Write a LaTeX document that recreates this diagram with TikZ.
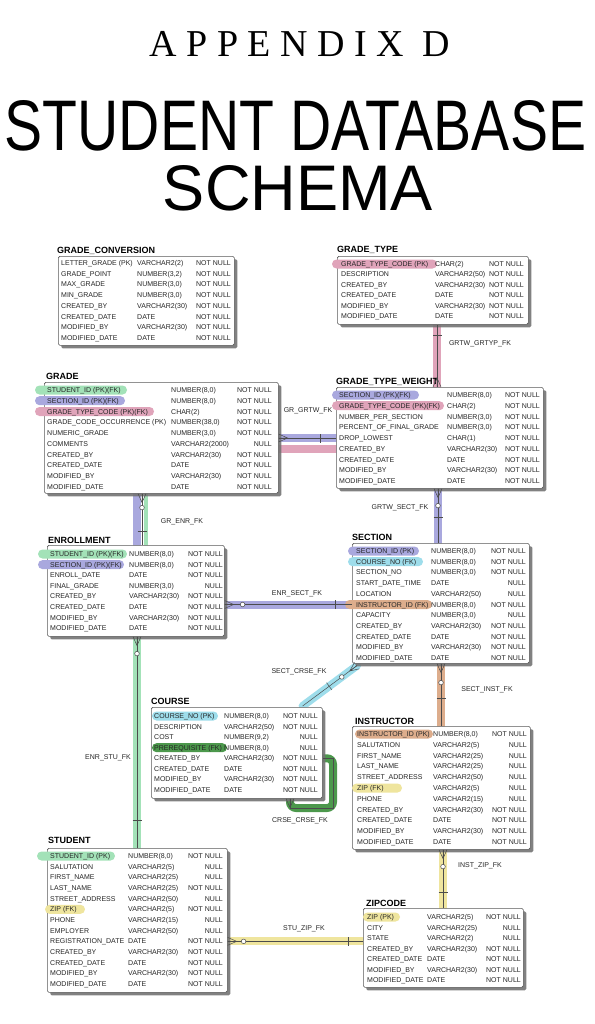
\documentclass[tikz,border=0pt]{standalone}
\usepackage{fontspec}
\setmainfont{Liberation Sans}
\setsansfont{Liberation Sans}
\newfontfamily\appxfont[LetterSpace=25]{Liberation Serif}
\usepackage{graphicx}
\usetikzlibrary{calc,shadows,backgrounds,decorations.markings}
\definecolor{hlgreen}{HTML}{A3E2B8}
\definecolor{hlblue}{HTML}{A9A8DE}
\definecolor{hlpink}{HTML}{E0A4BA}
\definecolor{hlcyan}{HTML}{9EDDEB}
\definecolor{hlorange}{HTML}{DDAD8C}
\definecolor{hlyellow}{HTML}{EFE59E}
\definecolor{hldkgreen}{HTML}{4C984C}
\tikzset{
  tbl/.style={draw=black!65,line width=0.6pt,fill=white,rounded corners=1.5pt,
    anchor=north west,inner sep=0pt,
    drop shadow={shadow xshift=3pt,shadow yshift=-3pt,fill=black!55,opacity=0.9}},
  tbltitle/.style={anchor=west,inner sep=0pt,text height=6.5pt,text depth=0pt,
    font=\sffamily\fontsize{9}{10}\selectfont\bfseries},
  cell/.style={anchor=west,inner sep=0pt,text height=5pt,text depth=0pt,
    text=black!85,font=\sffamily\fontsize{7}{8}\selectfont},
  nul/.style={cell,anchor=east},
  pill/.style={fill=#1,rounded corners=4.5pt},
  band/.style={draw=#1,line width=8pt,line cap=round},
  fk/.style={draw=black!70,line width=0.5pt},
  crow/.style={postaction={decorate,decoration={markings,
    mark=at position 0pt with {\draw[fk] (0pt,4pt) -- (9pt,0pt) -- (0pt,-4pt) (0pt,0pt) -- (9pt,0pt);}}}},
  ring/.style={postaction={decorate,decoration={markings,
    mark=at position #1 with {\draw[fk,fill=white] (0pt,0pt) circle (2.3pt);}}}},
  onebar/.style={postaction={decorate,decoration={markings,
    mark=at position #1 with {\draw[fk] (0pt,-4.5pt) -- (0pt,4.5pt);}}}},
  fklabel/.style={inner sep=0pt,text=black!85,font=\sffamily\fontsize{7}{8}\selectfont}
}

\begin{document}
\begin{tikzpicture}[x=1pt,y=-1pt,font=\sffamily]
\useasboundingbox (0,0) rectangle (594,1024);
%% heading
\node[font=\appxfont\fontsize{38}{40}\selectfont] (appx) at (300,44) {APPENDIX D};
\node[inner sep=0pt] (head1) at (295.5,125.5) {\resizebox{581pt}{50pt}{STUDENT DATABASE}};
\node[inner sep=0pt] (head2) at (298,188) {\resizebox{270pt}{45pt}{SCHEMA}};

%% GRADE_CONVERSION
\node[tbltitle] (gc-title) at (57,250) {GRADE\_CONVERSION};
\node[tbl,minimum width=176pt,minimum height=89pt] (gc) at (58,256) {};
\foreach \cname/\ctype/\cnull [count=\i from 0] in {LETTER\_GRADE (PK)/VARCHAR2(2)/NOT NULL,
  GRADE\_POINT/{NUMBER(3,2)}/NOT NULL, MAX\_GRADE/{NUMBER(3,0)}/NOT NULL,
  MIN\_GRADE/{NUMBER(3,0)}/NOT NULL, CREATED\_BY/VARCHAR2(30)/NOT NULL,
  CREATED\_DATE/DATE/NOT NULL, MODIFIED\_BY/VARCHAR2(30)/NOT NULL,
  MODIFIED\_DATE/DATE/NOT NULL}{
  \node[cell] (gc-n\i) at (61,{263+10.7*\i}) {\cname};
  \node[cell] (gc-t\i) at (137,{263+10.7*\i}) {\ctype};
  \node[nul] (gc-u\i) at (231,{263+10.7*\i}) {\cnull};
}

%% GRADE_TYPE
\node[tbltitle] (gt-title) at (337,249) {GRADE\_TYPE};
\node[tbl,minimum width=191pt,minimum height=68pt] (gt) at (337,256) {};
\fill[pill=hlpink] (332,259.5) rectangle (437,268.5);
\foreach \cname/\ctype/\cnull [count=\i from 0] in {GRADE\_TYPE\_CODE (PK)/CHAR(2)/NOT NULL,
  DESCRIPTION/VARCHAR2(50)/NOT NULL, CREATED\_BY/VARCHAR2(30)/NOT NULL,
  CREATED\_DATE/DATE/NOT NULL, MODIFIED\_BY/VARCHAR2(30)/NOT NULL,
  MODIFIED\_DATE/DATE/NOT NULL}{
  \node[cell] (gt-n\i) at (341,{264+10.45*\i}) {\cname};
  \node[cell] (gt-t\i) at (435,{264+10.45*\i}) {\ctype};
  \node[nul] (gt-u\i) at (524,{264+10.45*\i}) {\cnull};
}

%% GRADE
\node[tbltitle] (gr-title) at (46,376) {GRADE};
\node[tbl,minimum width=234pt,minimum height=111pt] (gr) at (44,382) {};
\fill[pill=hlgreen] (35,385.5) rectangle (127,394.5);
\fill[pill=hlblue] (35,396.2) rectangle (125,405.2);
\fill[pill=hlpink] (35,407) rectangle (154,416);
\foreach \cname/\ctype/\cnull [count=\i from 0] in {STUDENT\_ID (PK)(FK)/{NUMBER(8,0)}/NOT NULL,
  SECTION\_ID (PK)(FK)/{NUMBER(8,0)}/NOT NULL, GRADE\_TYPE\_CODE (PK)(FK)/CHAR(2)/NOT NULL,
  GRADE\_CODE\_OCCURRENCE (PK)/{NUMBER(38,0)}/NOT NULL, NUMERIC\_GRADE/{NUMBER(3,0)}/NOT NULL,
  COMMENTS/VARCHAR2(2000)/NULL, CREATED\_BY/VARCHAR2(30)/NOT NULL,
  CREATED\_DATE/DATE/NOT NULL, MODIFIED\_BY/VARCHAR2(30)/NOT NULL,
  MODIFIED\_DATE/DATE/NOT NULL}{
  \node[cell] (gr-n\i) at (47,{390+10.75*\i}) {\cname};
  \node[cell] (gr-t\i) at (171,{390+10.75*\i}) {\ctype};
  \node[nul] (gr-u\i) at (272,{390+10.75*\i}) {\cnull};
}

%% GRADE_TYPE_WEIGHT
\node[tbltitle] (gtw-title) at (336,381) {GRADE\_TYPE\_WEIGHT};
\node[tbl,minimum width=207pt,minimum height=101pt] (gtw) at (336,387) {};
\fill[pill=hlblue] (332,390.5) rectangle (419,399.5);
\fill[pill=hlpink] (332,401.2) rectangle (444,410.2);
\foreach \cname/\ctype/\cnull [count=\i from 0] in {SECTION\_ID (PK)(FK)/{NUMBER(8,0)}/NOT NULL,
  GRADE\_TYPE\_CODE (PK)(FK)/CHAR(2)/NOT NULL, NUMBER\_PER\_SECTION/{NUMBER(3,0)}/NOT NULL,
  PERCENT\_OF\_FINAL\_GRADE/{NUMBER(3,0)}/NOT NULL, DROP\_LOWEST/CHAR(1)/NOT NULL,
  CREATED\_BY/VARCHAR2(30)/NOT NULL, CREATED\_DATE/DATE/NOT NULL,
  MODIFIED\_BY/VARCHAR2(30)/NOT NULL, MODIFIED\_DATE/DATE/NOT NULL}{
  \node[cell] (gtw-n\i) at (339,{395+10.75*\i}) {\cname};
  \node[cell] (gtw-t\i) at (447,{395+10.75*\i}) {\ctype};
  \node[nul] (gtw-u\i) at (540,{395+10.75*\i}) {\cnull};
}

%% ENROLLMENT
\node[tbltitle] (enr-title) at (48,540) {ENROLLMENT};
\node[tbl,minimum width=177pt,minimum height=91pt] (enr) at (47,545) {};
\fill[pill=hlgreen] (38,549.5) rectangle (127,558.5);
\fill[pill=hlblue] (38,560.1) rectangle (124,569.1);
\foreach \cname/\ctype/\cnull [count=\i from 0] in {STUDENT\_ID (PK)(FK)/{NUMBER(8,0)}/NOT NULL,
  SECTION\_ID (PK)(FK)/{NUMBER(8,0)}/NOT NULL, ENROLL\_DATE/DATE/NOT NULL,
  FINAL\_GRADE/{NUMBER(3,0)}/NULL, CREATED\_BY/VARCHAR2(30)/NOT NULL,
  CREATED\_DATE/DATE/NOT NULL, MODIFIED\_BY/VARCHAR2(30)/NOT NULL,
  MODIFIED\_DATE/DATE/NOT NULL}{
  \node[cell] (enr-n\i) at (50,{554+10.6*\i}) {\cname};
  \node[cell] (enr-t\i) at (129,{554+10.6*\i}) {\ctype};
  \node[nul] (enr-u\i) at (223,{554+10.6*\i}) {\cnull};
}

%% SECTION
\node[tbltitle] (sec-title) at (352,537) {SECTION};
\node[tbl,minimum width=177pt,minimum height=120pt] (sec) at (352,543) {};
\fill[pill=hlblue] (348,546.5) rectangle (419,555.5);
\fill[pill=hlcyan] (348,557.2) rectangle (423,566.2);
\fill[pill=hlorange] (345,600) rectangle (432,609);
\foreach \cname/\ctype/\cnull [count=\i from 0] in {SECTION\_ID (PK)/{NUMBER(8,0)}/NOT NULL,
  COURSE\_NO (FK)/{NUMBER(8,0)}/NOT NULL, SECTION\_NO/{NUMBER(3,0)}/NOT NULL,
  START\_DATE\_TIME/DATE/NULL, LOCATION/VARCHAR2(50)/NULL,
  INSTRUCTOR\_ID (FK)/{NUMBER(8,0)}/NOT NULL, CAPACITY/{NUMBER(3,0)}/NULL,
  CREATED\_BY/VARCHAR2(30)/NOT NULL, CREATED\_DATE/DATE/NOT NULL,
  MODIFIED\_BY/VARCHAR2(30)/NOT NULL, MODIFIED\_DATE/DATE/NOT NULL}{
  \node[cell] (sec-n\i) at (356,{551+10.7*\i}) {\cname};
  \node[cell] (sec-t\i) at (431,{551+10.7*\i}) {\ctype};
  \node[nul] (sec-u\i) at (526,{551+10.7*\i}) {\cnull};
}

%% COURSE
\node[tbltitle] (crs-title) at (151,701) {COURSE};
\node[tbl,minimum width=171pt,minimum height=91pt] (crs) at (151,707) {};
\fill[pill=hlcyan] (152,711.5) rectangle (218,720.5);
\fill[pill=hldkgreen] (152,743.2) rectangle (227,752.2);
\foreach \cname/\ctype/\cnull [count=\i from 0] in {COURSE\_NO (PK)/{NUMBER(8,0)}/NOT NULL,
  DESCRIPTION/VARCHAR2(50)/NOT NULL, COST/{NUMBER(9,2)}/NULL,
  PREREQUISITE (FK)/{NUMBER(8,0)}/NULL, CREATED\_BY/VARCHAR2(30)/NOT NULL,
  CREATED\_DATE/DATE/NOT NULL, MODIFIED\_BY/VARCHAR2(30)/NOT NULL,
  MODIFIED\_DATE/DATE/NOT NULL}{
  \node[cell] (crs-n\i) at (154,{716+10.57*\i}) {\cname};
  \node[cell] (crs-t\i) at (224,{716+10.57*\i}) {\ctype};
  \node[nul] (crs-u\i) at (318,{716+10.57*\i}) {\cnull};
}

%% INSTRUCTOR
\node[tbltitle] (ins-title) at (355,721) {INSTRUCTOR};
\node[tbl,minimum width=178pt,minimum height=123pt] (ins) at (352,726) {};
\fill[pill=hlorange] (355,729.5) rectangle (433,738.5);
\fill[pill=hlyellow] (352,783.5) rectangle (402,792.5);
\foreach \cname/\ctype/\cnull [count=\i from 0] in {INSTRUCTOR\_ID (PK)/{NUMBER(8,0)}/NOT NULL,
  SALUTATION/VARCHAR2(5)/NULL, FIRST\_NAME/VARCHAR2(25)/NULL,
  LAST\_NAME/VARCHAR2(25)/NULL, STREET\_ADDRESS/VARCHAR2(50)/NULL,
  ZIP (FK)/VARCHAR2(5)/NULL, PHONE/VARCHAR2(15)/NULL,
  CREATED\_BY/VARCHAR2(30)/NOT NULL, CREATED\_DATE/DATE/NOT NULL,
  MODIFIED\_BY/VARCHAR2(30)/NOT NULL, MODIFIED\_DATE/DATE/NOT NULL}{
  \node[cell] (ins-n\i) at (357,{734+10.8*\i}) {\cname};
  \node[cell] (ins-t\i) at (433,{734+10.8*\i}) {\ctype};
  \node[nul] (ins-u\i) at (527,{734+10.8*\i}) {\cnull};
}

%% STUDENT
\node[tbltitle] (stu-title) at (48,840) {STUDENT};
\node[tbl,minimum width=180pt,minimum height=144pt] (stu) at (47,848) {};
\fill[pill=hlgreen] (37,851.5) rectangle (115,860.5);
\fill[pill=hlyellow] (45,904.8) rectangle (85,913.8);
\foreach \cname/\ctype/\cnull [count=\i from 0] in {STUDENT\_ID (PK)/{NUMBER(8,0)}/NOT NULL,
  SALUTATION/VARCHAR2(5)/NULL, FIRST\_NAME/VARCHAR2(25)/NULL,
  LAST\_NAME/VARCHAR2(25)/NOT NULL, STREET\_ADDRESS/VARCHAR2(50)/NULL,
  ZIP (FK)/VARCHAR2(5)/NOT NULL, PHONE/VARCHAR2(15)/NULL,
  EMPLOYER/VARCHAR2(50)/NULL, REGISTRATION\_DATE/DATE/NOT NULL,
  CREATED\_BY/VARCHAR2(30)/NOT NULL, CREATED\_DATE/DATE/NOT NULL,
  MODIFIED\_BY/VARCHAR2(30)/NOT NULL, MODIFIED\_DATE/DATE/NOT NULL}{
  \node[cell] (stu-n\i) at (50,{856+10.67*\i}) {\cname};
  \node[cell] (stu-t\i) at (128,{856+10.67*\i}) {\ctype};
  \node[nul] (stu-u\i) at (223,{856+10.67*\i}) {\cnull};
}

%% ZIPCODE
\node[tbltitle] (zip-title) at (366,903) {ZIPCODE};
\node[tbl,minimum width=160pt,minimum height=79pt] (zip) at (363,908) {};
\fill[pill=hlyellow] (363,912.5) rectangle (400,921.5);
\foreach \cname/\ctype/\cnull [count=\i from 0] in {ZIP (PK)/VARCHAR2(5)/NOT NULL,
  CITY/VARCHAR2(25)/NULL, STATE/VARCHAR2(2)/NULL,
  CREATED\_BY/VARCHAR2(30)/NOT NULL, CREATED\_DATE/DATE/NOT NULL,
  MODIFIED\_BY/VARCHAR2(30)/NOT NULL, MODIFIED\_DATE/DATE/NOT NULL}{
  \node[cell] (zip-n\i) at (367,{917+10.5*\i}) {\cname};
  \node[cell] (zip-t\i) at (427,{917+10.5*\i}) {\ctype};
  \node[nul] (zip-u\i) at (521,{917+10.5*\i}) {\cnull};
}

%% relationships: highlight bands, behind the tables
\begin{scope}[on background layer]
\draw[band=hlpink] (gtw.north -| 437,0) -- (gt.south -| 437,0);
\draw[band=hlblue] (gr.east |- gtw-n4) -- (gtw.west |- gtw-n4);
\draw[band=hlpink] (gr.east |- gtw-n5) -- (gtw.west |- gtw-n5);
\draw[band=hlblue] (gr.south -| 137,0) -- (enr.north -| 137,0);
\draw[band=hlgreen,line width=4pt] (gr.south -| 146,0) -- (enr.north -| 146,0);
\draw[band=hlblue] (gtw.south -| 438,0) -- (sec.north -| 438,0);
\draw[band=hlblue] (enr.east |- sec-n5) -- (sec.west |- sec-n5);
\draw[band=hlcyan] ($(sec.south west)+(5,2)$) -- ($(crs.north east)+(-20,-1)$);
\draw[band=hlorange] (sec.south -| 441,0) -- (ins.north -| 441,0);
\draw[band=hlgreen] (enr.south -| 137,0) -- (stu.north -| 137,0);
\draw[band=hldkgreen,rounded corners=6pt] (crs.south -| 290,0) |- (333,808) |- (crs.east |- crs-n4);
\draw[band=hlyellow] (ins.south -| 443,0) -- (zip.north -| 443,0);
\draw[band=hlyellow] (stu.east |- stu-n8) -- (zip.west |- stu-n8);
\end{scope}

%% relationships: lines, crow's feet and bars
\draw[fk,crow,onebar=-11pt] (gtw.north -| 437,0) -- (gt.south -| 437,0);
\draw[fk,crow,onebar=-16pt] (gr.east |- gtw-n4) -- (gtw.west |- gtw-n4);
\draw[fk,crow,ring=14pt,onebar=-14pt] (gr.south -| 142,0) -- (enr.north -| 142,0);
\draw[fk,crow,ring=17pt,onebar=-26pt] (gtw.south -| 438,0) -- (sec.north -| 438,0);
\draw[fk,crow,ring=18pt,onebar=-17pt] (enr.east |- sec-n5) -- (sec.west |- sec-n5);
\draw[fk,crow,ring=19pt,onebar=-33pt] ($(sec.south west)+(5,2)$) -- ($(crs.north east)+(-20,-1)$);
\draw[fk,crow,ring=19pt,onebar=-28pt] (sec.south -| 441,0) -- (ins.north -| 441,0);
\draw[fk,crow,ring=17pt,onebar=-28pt] (enr.south -| 137,0) -- (stu.north -| 137,0);
\draw[fk,crow] (crs.south -| 290,0) |- (333,808) |- (crs.east |- crs-n4);
\draw[fk,crow,ring=17pt,onebar=-16pt] (ins.south -| 443,0) -- (zip.north -| 443,0);
\draw[fk,crow,ring=16pt,onebar=-15pt] (stu.east |- stu-n8) -- (zip.west |- stu-n8);

%% relationship names
\node[fklabel] (l-grtyp) at (480,344) {GRTW\_GRTYP\_FK};
\node[fklabel] (l-grgrtw) at (308,411) {GR\_GRTW\_FK};
\node[fklabel] (l-grenr) at (182,522) {GR\_ENR\_FK};
\node[fklabel] (l-grtwsect) at (400,508) {GRTW\_SECT\_FK};
\node[fklabel] (l-enrsect) at (297,594) {ENR\_SECT\_FK};
\node[fklabel] (l-sectcrse) at (299,672) {SECT\_CRSE\_FK};
\node[fklabel] (l-sectinst) at (487,690) {SECT\_INST\_FK};
\node[fklabel] (l-enrstu) at (108,758) {ENR\_STU\_FK};
\node[fklabel] (l-crsecrse) at (300,821) {CRSE\_CRSE\_FK};
\node[fklabel] (l-instzip) at (480,866) {INST\_ZIP\_FK};
\node[fklabel] (l-stuzip) at (304,929) {STU\_ZIP\_FK};
\end{tikzpicture}
\end{document}
